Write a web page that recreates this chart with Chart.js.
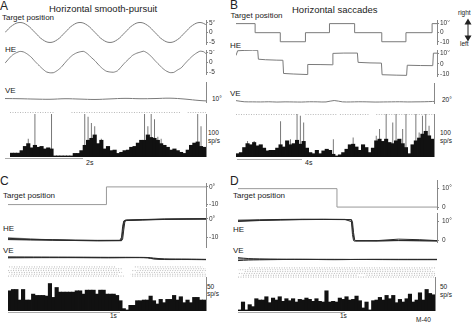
<!DOCTYPE html>
<html>
<head>
<meta charset="utf-8">
<script src="https://cdn.jsdelivr.net/npm/chart.js@4.4.1/dist/chart.umd.min.js"></script>
<style>
  body { margin: 0; background: #fff; }
  #fig { position: relative; width: 474px; height: 323px; overflow: hidden; font-family: "Liberation Sans", Arial, Helvetica, sans-serif; color: #222; }
  #fig canvas { position: absolute; }
  .t { position: absolute; white-space: nowrap; line-height: 1; }
  .sb { position: absolute; height: 1px; background: #aaa; }
</style>
</head>
<body>
<div id="fig">
  <!-- painel A -->
  <div class="t" style="left:0;top:0;font-size:12px">A</div>
  <div class="t" style="left:49px;top:3.8px;font-size:9.5px">Horizontal smooth-pursuit</div>
  <div class="t" style="left:2px;top:14px;font-size:8px">Target position</div>
  <div class="t" style="left:5px;top:46px;font-size:8px">HE</div>
  <div class="t" style="left:5px;top:87px;font-size:8px">VE</div>
  <div class="t" style="left:212px;top:95.7px;font-size:6.5px">10°</div>
  <div class="t" style="left:208px;top:130.2px;font-size:6.5px">100</div>
  <div class="t" style="left:208px;top:138.2px;font-size:6.5px">sp/s</div>
  <div class="sb" style="left:5px;top:158px;width:78px"></div>
  <div class="t" style="left:86px;top:159px;font-size:7px">2s</div>

  <!-- painel B -->
  <div class="t" style="left:230px;top:-1px;font-size:12px">B</div>
  <div class="t" style="left:292px;top:5.3px;font-size:9.5px">Horizontal saccades</div>
  <div class="t" style="left:230.5px;top:12.3px;font-size:8px">Target position</div>
  <div class="t" style="left:230px;top:42px;font-size:8px">HE</div>
  <div class="t" style="left:230px;top:90px;font-size:8px">VE</div>
  <div class="t" style="left:458px;top:9.5px;font-size:6.5px">right</div>
  <svg style="position:absolute;left:464px;top:18px" width="8" height="24">
    <path d="M4 4V20" stroke="#222" stroke-width="1"/>
    <path d="M0.5 6.5L4 0.5L7.5 6.5ZM0.5 17.5L4 23.5L7.5 17.5Z" fill="#222"/>
  </svg>
  <div class="t" style="left:460px;top:41.2px;font-size:6.5px">left</div>
  <div class="t" style="left:442px;top:96.7px;font-size:6.5px">20°</div>
  <div class="t" style="left:440px;top:130.2px;font-size:6.5px">100</div>
  <div class="t" style="left:440px;top:138.2px;font-size:6.5px">sp/s</div>
  <div class="sb" style="left:237px;top:159px;width:65px"></div>
  <div class="t" style="left:305px;top:158.5px;font-size:7px">4s</div>

  <!-- painel C -->
  <div class="t" style="left:0;top:175px;font-size:12px">C</div>
  <div class="t" style="left:3px;top:191.5px;font-size:8px">Target position</div>
  <div class="t" style="left:3px;top:225px;font-size:8px">HE</div>
  <div class="t" style="left:3px;top:247px;font-size:8px">VE</div>
  <div class="t" style="left:207px;top:284.2px;font-size:6.5px">50</div>
  <div class="t" style="left:207px;top:291.2px;font-size:6.5px">sp/s</div>
  <div class="sb" style="left:8px;top:312px;width:112px"></div>
  <div class="t" style="left:110px;top:312.5px;font-size:6.5px">1s</div>

  <!-- painel D -->
  <div class="t" style="left:230px;top:175px;font-size:12px">D</div>
  <div class="t" style="left:233px;top:191.8px;font-size:8px">Target position</div>
  <div class="t" style="left:233px;top:225.5px;font-size:8px">HE</div>
  <div class="t" style="left:233px;top:247px;font-size:8px">VE</div>
  <div class="t" style="left:440px;top:283.5px;font-size:6.5px">50</div>
  <div class="t" style="left:440px;top:291.5px;font-size:6.5px">sp/s</div>
  <div class="sb" style="left:238px;top:312px;width:107px"></div>
  <div class="t" style="left:340px;top:312.5px;font-size:6.5px">1s</div>
  <div class="t" style="left:416px;top:317px;font-size:6.5px">M-40</div>
</div>
<script>
// ---------- dados ----------

// Painel A: perseguição lenta horizontal (graus, amostras a cada dt segundos)
const dtTargetA = 0.2;
const targetA = [0, 3.7, 5.2, 3.7, 0, -3.7, -5.2, -3.7, 0, 3.7, 5.2, 3.7, 0, -3.7, -5.2, -3.7, 0, 3.7, 5.2, 3.7, 0, -3.7, -5.2, -3.7, 0, 3.7, 5.2, 3.7];
const dtHeA = 0.1;
const heA = [-0.6, 1.6, 3.5, 4.6, 5.3, 5.0, 3.9, 2.4, 0.3, -1.6, -3.4, -4.9, -5.4, -5.3, -4.2, -2.6,
  -0.4, 1.7, 3.4, 4.5, 5.1, 5.3, 4.1, 2.3, 0.6, -1.5, -3.3, -4.6, -5.0, -5.1, -4.4, -2.4,
  -0.3, 1.5, 3.3, 4.3, 4.9, 5.4, 4.4, 2.8, 0.7, -1.2, -3.1, -4.5, -5.3, -5.2, -4.0, -2.9,
  -0.8, 1.2, 3.0, 4.4, 5.4, 5.1, 3.4];
const dtVeA = 0.4;
const veA = [0.9, 0.8, 0.6, 0.5, 0.8, 0.6, 0.4, 0.7, 1.0, 0.8, 0.9, 1.1, 0.6, -0.2, -0.6];
// histograma (sp/s por bin) + picos finos (bin, sp/s)
const histA = [10, 10, 10, 19, 34, 44, 29, 38, 31, 34, 25, 29, 25, 0, 0, 0, 0, 0, 0, 9,
  9, 19, 38, 56, 63, 75, 44, 56, 25, 34, 19, 21, 9, 13, 19, 21, 31, 34, 46, 56,
  56, 75, 66, 63, 56, 44, 38, 31, 21, 25, 19, 13, 9, 21, 38, 46, 50, 34, 31];
const spikeBinA = [5, 7, 12, 22, 23, 24, 25, 27, 40, 41, 42, 43, 44, 45, 56, 57];
const spikeValA = [62, 150, 150, 150, 140, 118, 106, 62, 150, 106, 150, 131, 69, 62, 150, 106];
const rasterA = [[[0, 13.5], [18.5, 51.5], [53.5, 59]]];

// Painel B: sacadas horizontais
const targetTimeB = [0, 1.17, 2.71, 4.25, 5.72, 7.26, 8.92, 10.4, 12.0, 12.3];
const targetB = [10, 0, -10, 0, 10, 0, -10, 0, 10, 10];
const heTimeB = [0, 0.1, 0.5, 1.0, 1.33, 1.37, 1.8, 2.5, 2.87, 2.91, 3.5, 4.35, 4.39, 5.2, 5.89,
  5.93, 6.6, 7.43, 7.47, 8.2, 8.9, 8.94, 9.8, 10.44, 10.48, 11.3, 12.04, 12.08, 12.3];
const heB = [8, 12.5, 12.8, 13.0, 12.9, 4.5, 4.0, 3.6, 3.5, -9.0, -9.5, -10.0, -0.5, -0.6, -0.8,
  10.0, 10.3, 10.3, 1.5, 1.0, 0.8, -10.2, -10.6, -10.8, -1.2, -1.5, -1.6, 10.2, 10.2];
const dtVeB = 0.5;
const veB = [1.5, 0.3, 0.2, 0.1, 0.3, 0.0, 0.2, 0.1, 0.0, 0.3, 0.2, 0.1, 1.6, 0.2, 0.1, 0.3, 0.2, 0.0, 0.1, 0.2, 0.3, 0.1, 0.2, 0.3, 0.6, 0.9];
const histB = [8, 12, 30, 44, 40, 48, 36, 40, 28, 18, 20, 20, 28, 40, 32, 54, 40, 44, 56, 42,
  52, 28, 12, 8, 20, 8, 18, 24, 20, 6, 0, 4, 12, 24, 40, 42, 32, 20, 40, 30,
  12, 28, 54, 60, 52, 60, 48, 44, 54, 60, 44, 30, 8, 40, 54, 64, 78, 88, 72, 60];
const spikeBinB = [3, 5, 13, 16, 18, 19, 20, 29, 35, 42, 43, 45, 47, 48, 50, 51, 54, 55, 56, 57, 58];
const spikeValB = [54, 54, 124, 60, 150, 144, 120, 60, 66, 72, 96, 150, 120, 150, 96, 150, 150, 84, 144, 150, 108];
const rasterB = [[[0, 19], [21, 30.5], [31.5, 40.5], [42.5, 60]]];

// Painel C: degrau para a direita (várias tentativas sobrepostas)
const targetTimeC = [0, 0.88, 1.77];
const targetC = [-10, 0, 0];
const heTimeC = [0, 0.2, 0.4, 0.6, 0.8, 1.0, 1.015, 1.025, 1.035, 1.045, 1.06, 1.2, 1.4, 1.6, 1.77];
const heC = [
  [-11.0, -11.3, -11.5, -11.7, -11.8, -11.8, -11.7, -7.0, -2.0, -1.0, -0.8, -0.5, -0.2, -0.1, -0.1],
  [-10.6, -11.1, -11.4, -11.6, -11.7, -11.7, -10.0, -4.0, -1.2, -0.9, -0.8, -0.6, -0.3, -0.2, 0.0],
  [-11.3, -11.5, -11.6, -11.8, -12.0, -11.9, -11.9, -11.0, -6.0, -1.5, -1.0, -0.7, -0.4, -0.2, -0.2],
  [-10.2, -10.9, -11.4, -11.7, -11.8, -11.7, -11.5, -9.0, -3.0, -0.8, -0.6, -0.4, -0.1, 0.0, 0.1],
];
const veTimeC = [0, 0.3, 0.6, 0.9, 1.1, 1.25, 1.3, 1.4, 1.6, 1.77];
const veC = [
  [0.1, 0.1, 0.0, 0.0, 0.0, -0.1, -0.6, -0.9, -1.0, -1.0],
  [0.3, 0.2, 0.2, 0.1, 0.1, 0.0, -0.3, -0.8, -0.9, -1.1],
  [-0.2, -0.1, -0.1, -0.2, -0.1, -0.2, -0.8, -1.1, -1.1, -1.2],
];
const histC = [29, 31, 31, 15, 31, 15, 15, 24, 22, 22, 22, 21, 40, 19, 34, 27, 27, 27, 27, 27,
  29, 29, 24, 30, 30, 30, 24, 30, 30, 24, 24, 24, 22, 14, 2, 0, 7, 7, 14, 14,
  15, 15, 21, 14, 9, 16, 11, 16, 16, 22, 15, 20, 11, 15, 11, 19, 19, 15, 15];
const rasterC = [
  [[0, 34.5], [37, 59]], [[0.5, 33], [36.5, 59]], [[0, 34], [38, 58.5]],
  [[0, 33.5], [37, 59]], [[1, 34], [39, 59]], [[0, 32], [37.5, 58]],
];

// Painel D: degrau para a esquerda
const targetTimeD = [0, 0.925, 1.86];
const targetD = [10, 0, 0];
const heTimeD = [0, 0.2, 0.4, 0.6, 0.8, 1.0, 1.06, 1.07, 1.08, 1.09, 1.1, 1.3, 1.5, 1.7, 1.86];
const heD = [
  [10.4, 10.8, 11.0, 11.1, 11.2, 11.2, 11.1, 7.0, 1.5, -0.2, -0.4, -0.4, -0.2, -0.3, -0.4],
  [10.8, 11.0, 11.2, 11.3, 11.2, 11.1, 11.0, 10.0, 4.0, 0.3, -0.3, -0.5, -0.3, -0.4, -0.5],
  [10.1, 10.6, 10.9, 11.2, 11.3, 11.2, 10.0, 3.0, -0.3, -0.6, -0.5, -0.3, 0.5, 0.2, -0.3],
];
const veTimeD = [0, 0.1, 0.3, 0.6, 0.9, 1.2, 1.5, 1.86];
const veD = [
  [1.0, 0.5, 0.1, 0.0, 0.0, 0.0, -0.1, -0.1],
  [-0.6, -0.3, -0.1, 0.1, 0.1, 0.0, 0.0, 0.1],
  [0.3, 0.2, 0.2, 0.1, -0.1, 0.1, 0.1, 0.0],
];
const histD = [0, 12, 0, 8, 5, 17, 15, 15, 20, 11, 18, 15, 20, 13, 17, 14, 17, 12, 16, 15,
  18, 16, 13, 17, 13, 12, 29, 12, 13, 12, 18, 16, 20, 15, 16, 21, 14, 3, 12, 0,
  14, 15, 19, 15, 22, 17, 22, 11, 16, 12, 17, 24, 12, 15, 26, 15, 31, 25, 23];
const rasterD = [
  [[0, 59]], [[1, 36], [38, 59]], [[0, 59]], [[2, 59]], [[0, 58]], [[3, 59]],
];

// ticks dos eixos da direita
const ticksA = [-5, 0, 5];
const ticksB = [-10, 0, 10];
const ticksC = [-10, 0];
const ticksD = [0, 10];

// ---------- desenho ----------
const FONT = '"Liberation Sans", Arial, Helvetica, sans-serif';
const GRAY = '#7a7a7a';
const DARK = '#2a2a2a';
Chart.defaults.font.family = FONT;

const fig = document.getElementById('fig');

const pts = (xs, ys) => xs.map((x, i) => ({ x, y: ys[i] }));
const times = (ys, dt) => ys.map((_, i) => +(i * dt).toFixed(3));

const trace = (xs, ys, color = GRAY, extra = {}) => ({
  data: pts(xs, ys), borderColor: color, borderWidth: 1, pointRadius: 0, fill: false, tension: 0, ...extra,
});

// histograma preto + picos cinzentos finos
const histSets = (vals, spikeBins = [], spikeVals = []) => [
  { type: 'bar', data: vals.map((v, i) => ({ x: i + 0.5, y: v })), backgroundColor: '#111',
    barPercentage: 1, categoryPercentage: 1, inflateAmount: 0.4, order: 1 },
  { type: 'bar', data: spikeBins.map((b, i) => ({ x: b + 0.5, y: spikeVals[i] })), backgroundColor: '#777',
    barPercentage: 0.3, categoryPercentage: 1, grouped: false, order: 2 },
];

// raster: cada linha é uma fila de pontinhos (tracejado)
const rasterSets = (rows) => rows.map((segs, r) => ({
  data: segs.flatMap(([s, e]) => [{ x: s, y: r + 1 }, { x: e, y: r + 1 }, { x: e, y: null }]),
  borderColor: '#b9b9b9', borderWidth: 1, borderDash: [1, 1.5], borderDashOffset: r * 0.8,
  pointRadius: 0, spanGaps: false,
}));

// cria um canvas posicionado; a área do gráfico fica em (left, top, w, h)
const plot = (left, top, w, h, cfg) => {
  const { axisW = 0, x, y, datasets, type = 'line', base = false } = cfg;
  const canvas = document.createElement('canvas');
  canvas.width = w + axisW;
  canvas.height = h + (base ? 1 : 0);
  canvas.style.left = left + 'px';
  canvas.style.top = top + 'px';
  fig.appendChild(canvas);

  const yScale = {
    position: 'right', min: y.min, max: y.max, display: axisW > 0,
    ticks: {
      display: !!y.ticks, autoSkip: false, font: { size: 6.5 }, color: '#333', padding: y.pad ?? 1,
      callback: (v, i, ticks) => (i === ticks.length - 1 ? v + '°' : String(v)),
    },
    grid: { display: !!y.ticks, drawOnChartArea: false, tickLength: 2, color: '#888' },
    border: { display: true, color: '#888' },
    afterFit: (s) => { s.width = axisW; s.paddingTop = 0; s.paddingBottom = 0; },
  };
  if (y.ticks) yScale.afterBuildTicks = (s) => { s.ticks = y.ticks.map((value) => ({ value })); };

  return new Chart(canvas, {
    type,
    data: { datasets },
    options: {
      responsive: false,
      animation: false,
      events: [],
      layout: { padding: 0 },
      plugins: { legend: { display: false }, tooltip: { enabled: false } },
      scales: {
        x: {
          type: 'linear', min: x[0], max: x[1], offset: false, display: base,
          ticks: { display: false },
          grid: { display: false, drawTicks: false },
          border: { display: base, color: '#111' },
          afterFit: (s) => { s.height = 1; s.paddingLeft = 0; s.paddingRight = 0; },
        },
        y: yScale,
      },
    },
  });
};

// Painel A
plot(5, 20, 201, 25, { axisW: 16, x: [0, 5.36], y: { min: -6, max: 6.5, ticks: ticksA },
  datasets: [trace(times(targetA, dtTargetA), targetA, GRAY, { tension: 0.4 })] });
plot(5, 50, 201, 25, { axisW: 16, x: [0, 5.36], y: { min: -6, max: 6, ticks: ticksA },
  datasets: [trace(times(heA, dtHeA), heA, GRAY, { tension: 0.2 })] });
plot(5, 82, 201, 21, { axisW: 3, x: [0, 5.36], y: { min: -1, max: 10 },
  datasets: [trace(times(veA, dtVeA), veA, GRAY, { tension: 0.4 })] });
plot(10, 110, 196, 6, { x: [0, histA.length], y: { min: 0.5, max: 1.5 }, datasets: rasterSets(rasterA) });
plot(10, 114, 196, 42, { type: 'bar', base: true, axisW: 3, x: [0, histA.length], y: { min: 0, max: 150 },
  datasets: histSets(histA, spikeBinA, spikeValA) });

// Painel B
plot(236, 20, 201, 25, { axisW: 16, x: [0, 12.3], y: { min: -12.5, max: 14, ticks: ticksB },
  datasets: [trace(targetTimeB, targetB, GRAY, { stepped: true })] });
plot(236, 50, 201, 27, { axisW: 16, x: [0, 12.3], y: { min: -11.4, max: 13.2, ticks: ticksB },
  datasets: [trace(heTimeB, heB)] });
plot(236, 83, 198, 21, { axisW: 3, x: [0, 12.1], y: { min: -1, max: 20 },
  datasets: [trace(times(veB, dtVeB), veB, GRAY, { tension: 0.3 })] });
plot(236, 112, 198, 6, { x: [0, histB.length], y: { min: 0.5, max: 1.5 }, datasets: rasterSets(rasterB) });
plot(236, 114, 198, 42, { type: 'bar', base: true, axisW: 3, x: [0, histB.length], y: { min: 0, max: 150 },
  datasets: histSets(histB, spikeBinB, spikeValB) });

// Painel C
plot(8, 183, 198, 24, { axisW: 16, x: [0, 1.77], y: { min: -10.8, max: 2.2, ticks: ticksC },
  datasets: [trace(targetTimeC, targetC, '#999', { stepped: true })] });
plot(8, 208, 198, 40, { axisW: 16, x: [0, 1.77], y: { min: -15.3, max: 5.8, ticks: ticksC },
  datasets: heC.map((ys, i) => trace(heTimeC, ys, i === 3 ? '#999' : DARK)) });
plot(8, 252, 198, 12, { x: [0, 1.77], y: { min: -3, max: 3 },
  datasets: veC.map((ys) => trace(veTimeC, ys, DARK, { tension: 0.3 })) });
plot(8, 266, 198, 12, { x: [0, histC.length], y: { min: 0.5, max: rasterC.length + 0.5 }, datasets: rasterSets(rasterC) });
plot(8, 277, 198, 33, { type: 'bar', base: true, axisW: 3, x: [0, histC.length], y: { min: 0, max: 50 },
  datasets: histSets(histC) });

// Painel D
plot(238, 180, 199, 30, { axisW: 16, x: [0, 1.86], y: { min: -1.05, max: 14.7, ticks: ticksD, pad: 3 },
  datasets: [trace(targetTimeD, targetD, '#999', { stepped: true })] });
plot(238, 213, 199, 30, { axisW: 16, x: [0, 1.86], y: { min: -1.05, max: 14.7, ticks: ticksD, pad: 3 },
  datasets: heD.map((ys) => trace(heTimeD, ys, DARK)) });
plot(238, 254, 199, 12, { x: [0, 1.86], y: { min: -3, max: 3 },
  datasets: veD.map((ys) => trace(veTimeD, ys, DARK, { tension: 0.3 })) });
plot(238, 267, 197, 12, { x: [0, histD.length], y: { min: 0.5, max: rasterD.length + 0.5 }, datasets: rasterSets(rasterD) });
plot(238, 277, 197, 33, { type: 'bar', base: true, axisW: 3, x: [0, histD.length], y: { min: 0, max: 50 },
  datasets: histSets(histD) });
</script>
</body>
</html>
